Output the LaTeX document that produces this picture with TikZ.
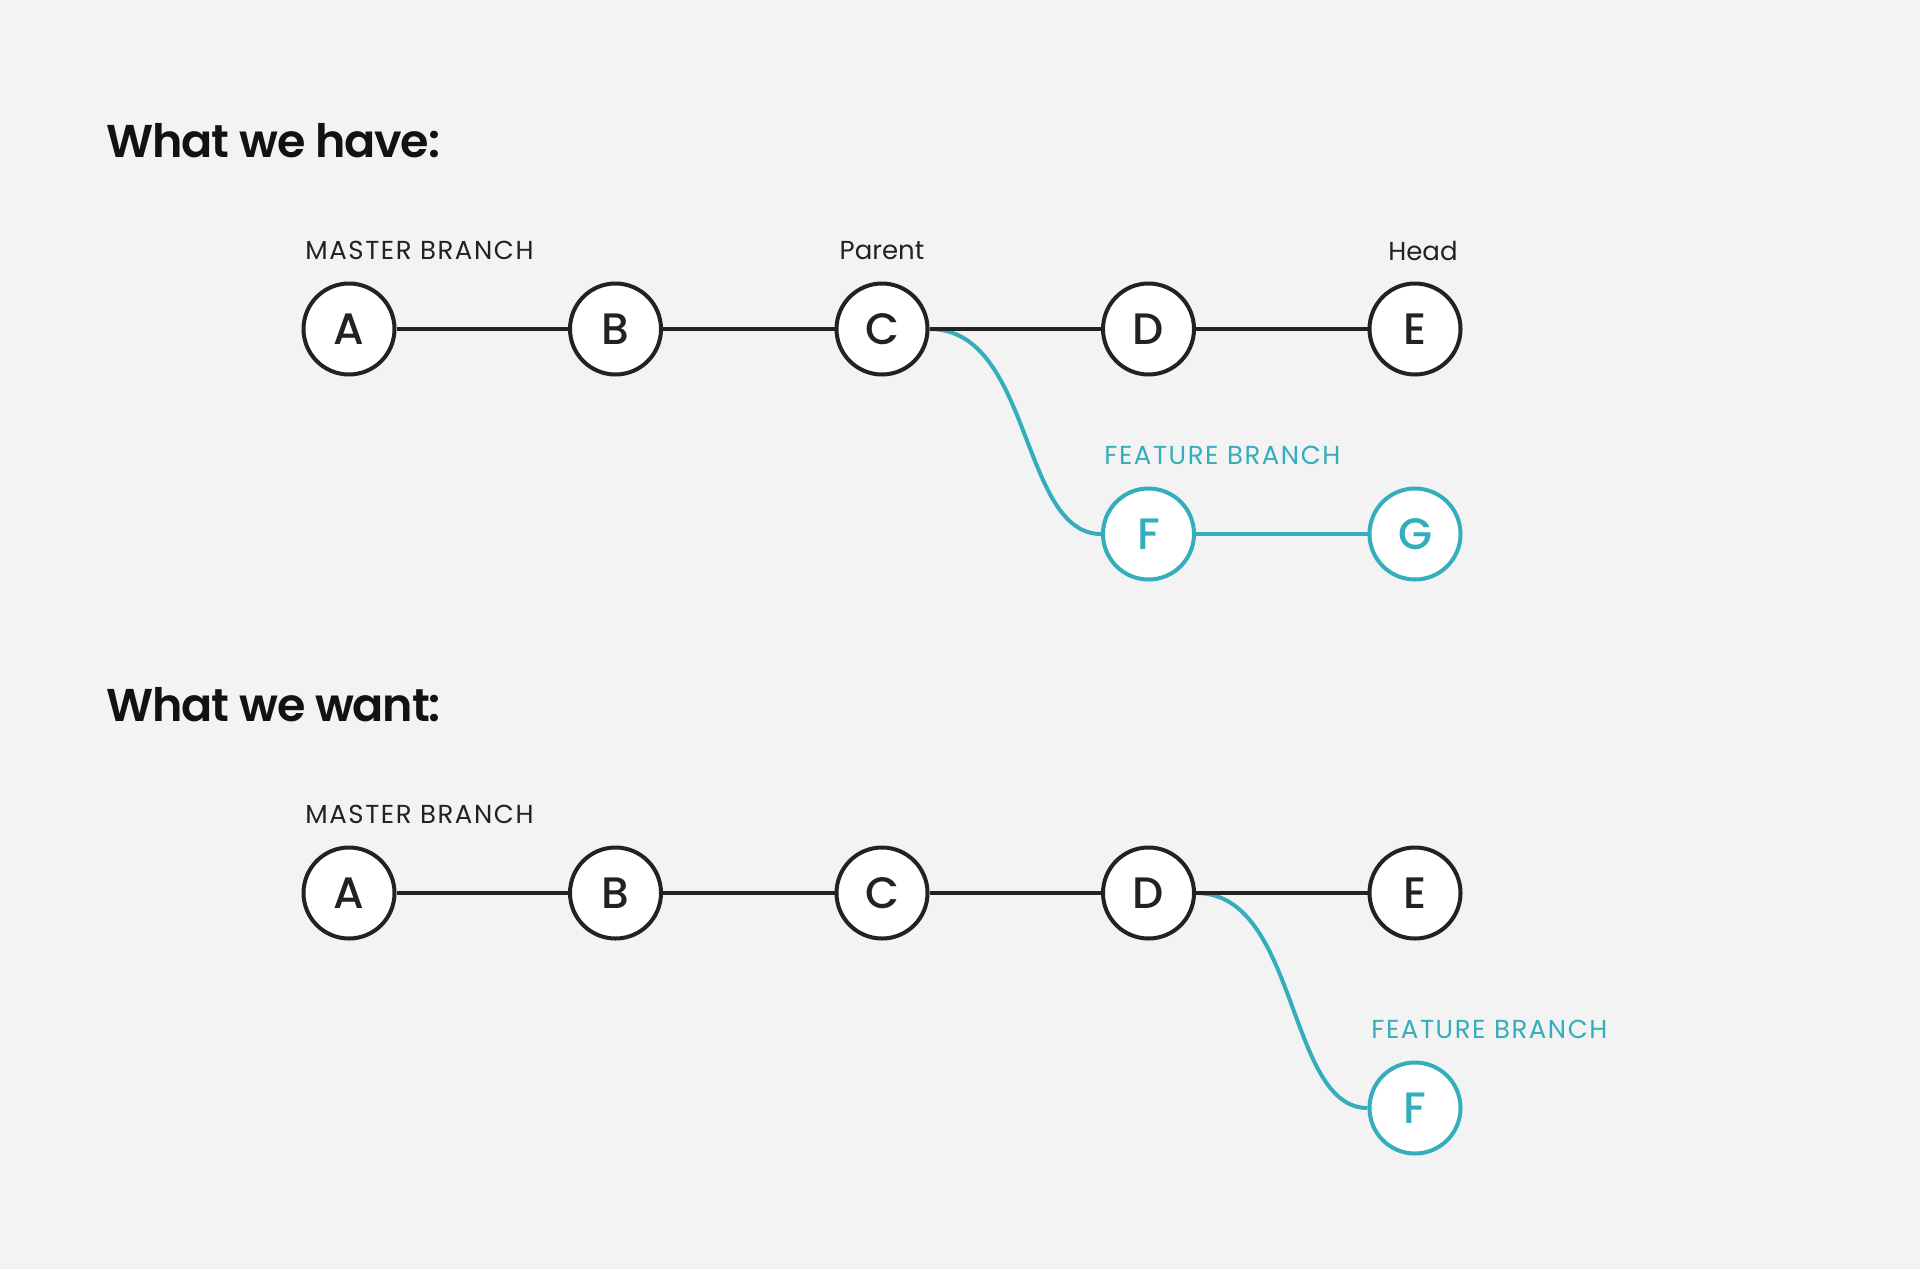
\documentclass[tikz,border=0pt]{standalone}
\usepackage{fontspec}
\setmainfont{Poppins}
\newfontfamily\medfont{Poppins Medium}
\newfontfamily\titlefont[LetterSpace=-2.5]{Poppins SemiBold}
\newfontfamily\capsfont[LetterSpace=6]{Poppins}
\definecolor{bgc}{HTML}{F3F3F3}
\definecolor{ink}{HTML}{222222}
\definecolor{tealc}{HTML}{34ADBC}
\pgfdeclarelayer{bg}
\pgfdeclarelayer{edges}
\pgfsetlayers{bg,edges,main}
\begin{document}
\begin{tikzpicture}[x=0.5pt,y=-0.5pt,
  commit/.style={circle,draw=ink,fill=white,line width=2pt,minimum size=45.5pt,inner sep=0pt,
    font=\medfont\fontsize{22pt}{22pt}\selectfont,text=ink},
  fcommit/.style={commit,draw=tealc,text=tealc},
  caps/.style={font=\capsfont\fontsize{13pt}{15pt}\selectfont,text=ink,inner sep=0pt},
  fcaps/.style={caps,text=tealc},
  plain/.style={font=\fontsize{13pt}{15pt}\selectfont,text=ink,inner sep=0pt},
  title/.style={font=\titlefont\fontsize{23pt}{28pt}\selectfont,text=black!93,inner sep=0pt},
  mline/.style={draw=ink,line width=1.8pt},
  fline/.style={draw=tealc,line width=2pt}
]
\begin{pgfonlayer}{bg}
  \fill[bgc] (0,0) rectangle (1920,1269);
\end{pgfonlayer}
\useasboundingbox (0,0) rectangle (1920,1269);

% --- What we have ---
\node[title,anchor=base west] (t1) at (106,157) {What we have:};
\node[caps,anchor=base west] (m1) at (305,259.5) {MASTER BRANCH};
\node[plain,anchor=base] (par) at (882,259.5) {Parent};
\node[plain,anchor=base east] (head) at (1458,260) {Head};
\node[fcaps,anchor=base west] (f1) at (1104,464) {FEATURE BRANCH};

\node[commit] (A1) at (349,329) {A};
\node[commit] (B1) at (615.5,329) {B};
\node[commit] (C1) at (882,329) {C};
\node[commit] (D1) at (1148.5,329) {D};
\node[commit] (E1) at (1415,329) {E};
\node[fcommit] (F1) at (1148.5,534) {F};
\node[fcommit] (G1) at (1415,534) {G};

\begin{pgfonlayer}{edges}
  \draw[fline] (C1.east) .. controls +(103,0) and +(-81,0) .. (F1.west);
  \draw[mline] (A1) -- (B1);
  \draw[mline] (B1) -- (C1);
  \draw[mline] (C1) -- (D1);
  \draw[mline] (D1) -- (E1);
  \draw[fline] (F1) -- (G1);
\end{pgfonlayer}

% --- What we want ---
\node[title,anchor=base west] (t2) at (106,721) {What we want:};
\node[caps,anchor=base west] (m2) at (305,823) {MASTER BRANCH};
\node[fcaps,anchor=base west] (f2) at (1371,1038) {FEATURE BRANCH};

\node[commit] (A2) at (349,893) {A};
\node[commit] (B2) at (615.5,893) {B};
\node[commit] (C2) at (882,893) {C};
\node[commit] (D2) at (1148.5,893) {D};
\node[commit] (E2) at (1415,893) {E};
\node[fcommit] (F2) at (1415,1108) {F};

\begin{pgfonlayer}{edges}
  \draw[fline] (D2.east) .. controls +(103,0) and +(-81,0) .. (F2.west);
  \draw[mline] (A2) -- (B2);
  \draw[mline] (B2) -- (C2);
  \draw[mline] (C2) -- (D2);
  \draw[mline] (D2) -- (E2);
\end{pgfonlayer}
\end{tikzpicture}
\end{document}
